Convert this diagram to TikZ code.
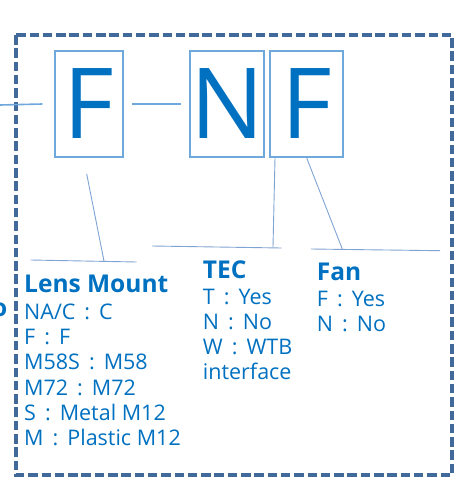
\documentclass[tikz,border=0pt]{standalone}
\usepackage{fontspec}
\setmainfont{Open Sans}
\usetikzlibrary{positioning}
\definecolor{codeblue}{HTML}{0070C0}
\definecolor{framegray}{HTML}{41699A}
\definecolor{boxblue}{HTML}{6FA8DC}
\definecolor{leadblue}{HTML}{7FA3D3}
\newcommand{\optsep}{\hspace{0.42em}:\hspace{0.42em}}

\begin{document}
\begin{tikzpicture}[x=1pt,y=-1pt,
  letterbox/.style={draw=boxblue,line width=1.3pt,minimum height=106pt,inner sep=0pt,
    text=codeblue,font=\fontsize{98}{98}\selectfont},
  joinline/.style={draw=boxblue,line width=1.6pt},
  leadline/.style={draw=leadblue,line width=0.9pt},
  heading/.style={anchor=base west,inner sep=0pt,text=codeblue,font=\fontsize{24.5}{28}\selectfont\bfseries},
  entry/.style={anchor=base west,inner sep=0pt,text=codeblue,font=\fontsize{21.5}{25}\selectfont}]
\useasboundingbox (0,0) rectangle (474,498);

% dashed frame
\draw[framegray,line width=3.8pt,dash pattern=on 9.5pt off 3.8pt] (16,35) rectangle (452,475);

% code letters
\node[letterbox,minimum width=68pt] (Fl) at (89,104) {F};
\node[letterbox,minimum width=72pt] (N) at (227,104) {N};
\node[letterbox,minimum width=73pt] (Fr) at (306.5,104) {F};

\coordinate (inlet) at (0,105);
\draw[joinline] (inlet) -- ([xshift=-12pt]Fl.west);
\draw[joinline] ([xshift=8pt]Fl.east) -- ([xshift=-8pt]N.west);

% leader lines
\coordinate (lenstop) at (86.7,174);
\coordinate (lensfoot) at (104,261);
\coordinate (lensbarL) at (30.7,260);
\coordinate (lensbarR) at (136.7,262);
\draw[leadline] (lenstop) -- (lensfoot);
\draw[leadline] (lensbarL) -- (lensbarR);

\coordinate (tectop) at (275,158);
\coordinate (tecfoot) at (273,247);
\coordinate (tecbarL) at (152,246);
\coordinate (tecbarR) at (281.7,248);
\draw[leadline] (tectop) -- (tecfoot);
\draw[leadline] (tecbarL) -- (tecbarR);

\coordinate (fantop) at (306.7,158);
\coordinate (fanfoot) at (342.3,249);
\coordinate (fanbarL) at (311,249);
\coordinate (fanbarR) at (440,250.7);
\draw[leadline] (fantop) -- (fanfoot);
\draw[leadline] (fanbarL) -- (fanbarR);

% option lists
\node[heading] (lens) at (24,292) {Lens Mount};
\foreach \code/\desc [count=\i] in {{NA/C}/C,F/F,M58S/M58,M72/M72,S/{Metal M12},M/{Plastic M12}}
  \node[entry] (lens-\i) at (24,{319.5+25.2*(\i-1)}) {\code\optsep\desc};

\node[heading] (tec) at (202.7,278) {TEC};
\foreach \code/\desc [count=\i] in {T/Yes,N/No,W/WTB}
  \node[entry] (tec-\i) at (202.7,{304.3+25*(\i-1)}) {\code\optsep\desc};
\node[entry] (tec-4) at (202.7,379) {interface};

\node[heading] (fan) at (316.7,280.7) {Fan};
\foreach \code/\desc [count=\i] in {F/Yes,N/No}
  \node[entry] (fan-\i) at (316.7,{306+25.7*(\i-1)}) {\code\optsep\desc};

% cut-off label at the left edge
\node[heading,anchor=base east] (cut) at (7.5,316) {o};
\end{tikzpicture}
\end{document}
